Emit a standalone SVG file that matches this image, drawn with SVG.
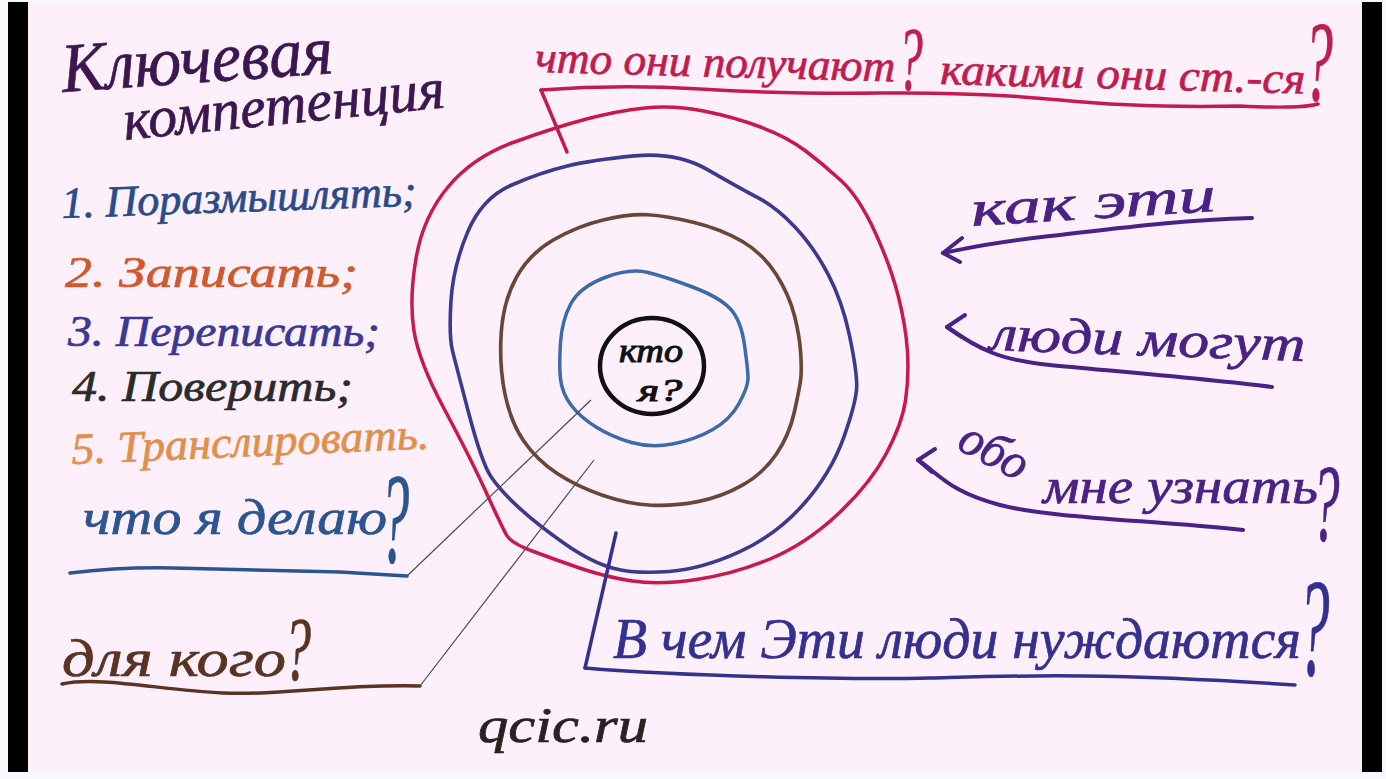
<svg xmlns="http://www.w3.org/2000/svg" width="1386" height="779" viewBox="0 0 1386 779">
<style>
.hand{font-family:"Liberation Serif","DejaVu Serif",serif;font-style:italic;stroke-width:0.7;}
.ring{fill:none;stroke-width:3.5;stroke-linejoin:round;stroke-linecap:round;}
.ul{fill:none;stroke-width:3.5;stroke-linecap:round;stroke-linejoin:round;}
.thin{fill:none;stroke:#4a4a55;stroke-width:1.2;}
.arrow{fill:none;stroke:#4a2185;stroke-width:4;stroke-linecap:round;stroke-linejoin:round;}
.purple{fill:#3b1650;stroke:#3b1650;}
.red{fill:#c01d4e;stroke:#c01d4e;}
.vio{fill:#4a2185;stroke:#4a2185;}
.ind{fill:#33308f;stroke:#33308f;}
.c1{fill:#2b4a8a;stroke:#2b4a8a;}
.c2{fill:#d05a2e;stroke:#d05a2e;}
.c3{fill:#3a3894;stroke:#3a3894;}
.c4{fill:#2b2b2b;stroke:#2b2b2b;}
.c5{fill:#e0904a;stroke:#e0904a;}
.cb{fill:#2b5590;stroke:#2b5590;}
.cbr{fill:#5a3322;stroke:#5a3322;}
.ck{fill:#111;stroke:#111;stroke-width:1;}
.cs{fill:#2a2222;stroke:#2a2222;}
</style>
<rect x="0" y="0" width="1386" height="779" fill="#f6f8fb"/>
<rect x="8" y="2" width="20" height="770" fill="#000"/>
<rect x="1362" y="2" width="20" height="770" fill="#000"/>
<rect x="28" y="2" width="1334" height="770" fill="#fdf0fb"/>

<g id="rings">
<path id="ring-red" class="ring" stroke="#c8194a" transform="translate(-3 -3)" d="M706.5,114 Q737,120 763.5,130 Q790,140 808,153.5 Q826,167 844,183.5 Q862,200 878,235 Q894,270 901.5,300 Q909,330 910.5,355 Q912,380 908.5,403.5 Q905,427 889,457 Q873,487 841,517 Q809,547 773,562 Q737,577 699.5,582.5 Q662,588 635.5,584 Q609,580 584,571.5 Q559,563 536.5,554.5 Q514,546 509.5,538 Q505,530 489,495 Q473,460 447.5,412.5 Q422,365 417,334 Q412,303 419,261.5 Q426,220 451,190 Q476,160 517.5,145 Q559,130 589.5,122 Q620,114 648,111 Q676,108 706.5,114 Z"/>
<path id="ring-indigo" class="ring" stroke="#3c3a8e" transform="translate(660 365) scale(1.03) translate(-660 -365)" d="M706.5,175.5 Q737,193 755,202.5 Q773,212 791,231 Q809,250 823,276.5 Q837,303 844,336.5 Q851,370 851,385 Q851,400 838.5,435 Q826,470 799.5,500 Q773,530 737,546.5 Q701,563 669,565.5 Q637,568 615.5,562.5 Q594,557 567.5,538.5 Q541,520 523,503.5 Q505,487 496,473.5 Q487,460 474.5,412.5 Q462,365 458.5,351 Q455,337 457,303.5 Q459,270 473,236.5 Q487,203 515.5,190.5 Q544,178 569,172 Q594,166 635,162 Q676,158 706.5,175.5 Z"/>
<path id="ring-brown" class="ring" stroke="#6b4535" transform="translate(652 360) scale(1.04 1.03) translate(-652 -360)" d="M648,219 Q666,220 692.5,226.5 Q719,233 739,245 Q759,257 771.5,277 Q784,297 789,317 Q794,337 795,353.5 Q796,370 795,378.5 Q794,387 789,410 Q784,433 771.5,451.5 Q759,470 739,481.5 Q719,493 696,497.5 Q673,502 651.5,501 Q630,500 605,491.5 Q580,483 560.5,470 Q541,457 528.5,438.5 Q516,420 510.5,392.5 Q505,365 507,334 Q509,303 521.5,280 Q534,257 557,243.5 Q580,230 605,224 Q630,218 648,219 Z"/>
<path id="ring-blue" class="ring" stroke="#3d6aa8" d="M648,272.5 Q666,277 692.5,287 Q719,297 730,308.5 Q741,320 744.5,345 Q748,370 748,378.5 Q748,387 739,403.5 Q730,420 712,430 Q694,440 672.5,444 Q651,448 631.5,442.5 Q612,437 596,427 Q580,417 571,405 Q562,393 560.5,379 Q559,365 560.5,342.5 Q562,320 571,303.5 Q580,287 605,277.5 Q630,268 648,272.5 Z"/>
</g>

<g id="node-who">
<ellipse cx="652" cy="366" rx="52" ry="48" fill="none" stroke="#111" stroke-width="4.5"/>
<text class="hand ck" x="651" y="362" font-size="33" text-anchor="middle" textLength="64" lengthAdjust="spacingAndGlyphs">кто</text>
<text class="hand ck" x="660" y="401" font-size="31" text-anchor="middle" textLength="44" lengthAdjust="spacingAndGlyphs">я?</text>
</g>

<g id="connectors">
<path class="ul" stroke="#c01d4e" d="M541,90 Q620,84 700,89 T880,93 T1060,100 T1240,106 Q1300,109 1318,104"/>
<path class="ul" stroke="#c01d4e" stroke-width="3" d="M541,90 L567,152"/>
<path class="ul" stroke="#2b5590" d="M70,573 Q120,567 173,568 T340,572 L407,576"/>
<path class="thin" d="M407,576 L591,400"/>
<path class="ul" stroke="#5a3322" d="M62,684 C100,676 160,690 223,693 S330,684 420,686"/>
<path class="thin" d="M420,686 L594,460"/>
<path class="ul" stroke="#33308f" stroke-width="2.2" d="M616,533 L585,668"/>
<path class="ul" stroke="#33308f" d="M585,668 C680,676 850,680 930,678 S1100,672 1295,685"/>
<path class="arrow" d="M1252,218 C1180,220 1120,228 1050,236 S970,248 943,253"/>
<path class="arrow" d="M962,238 L943,253 L960,262"/>
<path class="arrow" d="M1272,387 C1200,378 1100,370 1050,365 S980,350 947,327"/>
<path class="arrow" d="M965,315 L947,327 L962,337"/>
<path class="arrow" d="M1243,530 C1150,520 1050,518 1000,505 S940,475 918,460"/>
<path class="arrow" d="M935,449 L918,460 L932,472"/>
</g>

<g id="title">
<text class="hand purple" x="63" y="92" font-size="70" textLength="272" lengthAdjust="spacingAndGlyphs" transform="rotate(-4 63 92)">Ключевая</text>
<text class="hand purple" x="125" y="140" font-size="58" textLength="323" lengthAdjust="spacingAndGlyphs" transform="rotate(-5.8 125 140)">компетенция</text>
</g>

<g id="list">
<text class="hand c1" x="62" y="218" font-size="44" textLength="355" lengthAdjust="spacingAndGlyphs" transform="rotate(-2 62 218)">1. Поразмышлять;</text>
<text class="hand c2" x="65" y="287" font-size="44" textLength="293" lengthAdjust="spacingAndGlyphs">2. Записать;</text>
<text class="hand c3" x="68" y="346" font-size="44" textLength="312" lengthAdjust="spacingAndGlyphs">3. Переписать;</text>
<text class="hand c4" x="72" y="401" font-size="44" textLength="281" lengthAdjust="spacingAndGlyphs">4. Поверить;</text>
<text class="hand c5" x="72" y="464" font-size="44" textLength="358" lengthAdjust="spacingAndGlyphs" transform="rotate(-2.5 72 464)">5. Транслировать.</text>
</g>

<g id="what-do-i-do">
<text class="hand cb" x="83" y="534" font-size="50" textLength="304" lengthAdjust="spacingAndGlyphs">что я делаю</text>
<text class="hand cb" font-size="130" transform="translate(380 562) scale(0.45 1)">?</text>
</g>

<g id="for-whom">
<text class="hand cbr" x="62" y="676" font-size="52" textLength="224" lengthAdjust="spacingAndGlyphs">для кого</text>
<text class="hand cbr" font-size="90" transform="translate(284 680) scale(0.6 1)">?</text>
</g>

<g id="site">
<text class="hand cs" x="478" y="742" font-size="50" textLength="170" lengthAdjust="spacingAndGlyphs">qcic.ru</text>
</g>

<g id="what-they-get">
<text class="hand red" x="535" y="72" font-size="44" textLength="360" lengthAdjust="spacingAndGlyphs" transform="rotate(1.5 535 72)">что они получают</text>
<text class="hand red" font-size="90" transform="translate(898 90) scale(0.55 1)">?</text>
<text class="hand red" x="940" y="84" font-size="44" textLength="365" lengthAdjust="spacingAndGlyphs" transform="rotate(1.5 940 84)">какими они ст.-ся</text>
<text class="hand red" font-size="115" transform="translate(1304 100) scale(0.5 1)">?</text>
</g>

<g id="how-find-me">
<text class="hand vio" x="972" y="226" font-size="50" textLength="245" lengthAdjust="spacingAndGlyphs" transform="rotate(-3.5 972 226)">как эти</text>
<text class="hand vio" x="990" y="350" font-size="50" textLength="315" lengthAdjust="spacingAndGlyphs" transform="rotate(2 990 350)">люди могут</text>
<text class="hand vio" x="955" y="448" font-size="50" textLength="72" lengthAdjust="spacingAndGlyphs" transform="rotate(28 955 448)">обо</text>
<text class="hand vio" x="1043" y="503" font-size="50" textLength="275" lengthAdjust="spacingAndGlyphs">мне узнать</text>
<text class="hand vio" font-size="110" transform="translate(1312 540) scale(0.5 1)">?</text>
</g>

<g id="needs">
<text class="hand ind" x="613" y="658" font-size="56" textLength="688" lengthAdjust="spacingAndGlyphs">В чем Эти люди нуждаются</text>
<text class="hand ind" font-size="140" transform="translate(1298 675) scale(0.45 1)">?</text>
</g>
</svg>
